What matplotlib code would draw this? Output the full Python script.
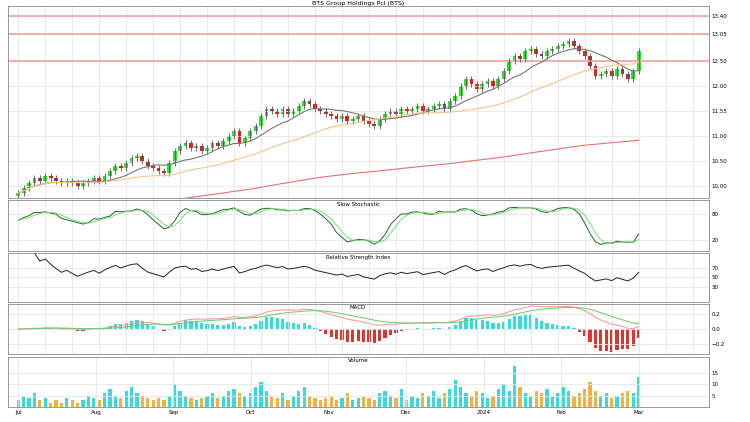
import numpy as np
import pandas as pd
import matplotlib.pyplot as plt

closes = [9.85, 9.95, 10.05, 10.15, 10.10, 10.20,
          10.15, 10.10, 10.05, 10.10, 10.05, 10.00, 10.05, 10.10, 10.15, 10.10,
          10.20, 10.30, 10.40, 10.35, 10.45, 10.55, 10.60, 10.50, 10.40, 10.35,
          10.30, 10.25, 10.45, 10.70, 10.80, 10.85, 10.75, 10.80, 10.70, 10.75,
          10.85, 10.80, 10.90, 11.00, 11.10, 10.85, 10.95, 11.10, 11.20, 11.40,
          11.55, 11.50, 11.45, 11.55, 11.45, 11.50, 11.60, 11.70, 11.65, 11.55,
          11.50, 11.45, 11.40, 11.35, 11.40, 11.30, 11.35, 11.40, 11.30, 11.25,
          11.20, 11.35, 11.45, 11.50, 11.45, 11.55, 11.50, 11.55, 11.60, 11.50,
          11.55, 11.60, 11.65, 11.55, 11.70, 11.80, 12.00, 12.15, 12.05, 11.95,
          12.05, 12.10, 12.00, 12.15, 12.30, 12.50, 12.60, 12.55, 12.70, 12.75,
          12.65, 12.60, 12.70, 12.75, 12.80, 12.85, 12.90, 12.80, 12.70, 12.60,
          12.40, 12.20, 12.25, 12.30, 12.20, 12.35, 12.25, 12.15, 12.30, 12.70]
# earlier history used only to warm up the long moving average
prior_closes = [9.2] * 30
volumes = [3, 5, 4, 6, 3, 4, 2, 3, 2, 4, 3, 2, 3, 5, 4, 3,
           6, 8, 5, 4, 7, 9, 6, 5, 4, 3, 4, 3, 5, 10, 7, 5,
           4, 3, 4, 5, 6, 4, 5, 7, 8, 6, 5, 6, 9, 11, 7, 5,
           4, 6, 3, 5, 7, 9, 5, 4, 3, 4, 5, 3, 4, 6, 3, 4,
           5, 4, 3, 6, 7, 5, 4, 8, 3, 5, 4, 6, 5, 7, 4, 6,
           8, 12, 9, 6, 5, 7, 6, 4, 5, 8, 10, 7, 18, 9, 6, 5,
           7, 6, 8, 5, 6, 9, 7, 5, 6, 8, 11, 7, 5, 6, 4, 5,
           6, 7, 6, 13]
date_labels = ["Jul", "Aug", "Sep", "Oct", "Nov", "Dec", "2024", "Feb", "Mar"]
res_lines = [12.5, 13.05, 13.4]
title = "BTS Group Holdings Pcl (BTS)"

c = pd.Series(closes)
n = len(c)
x = np.arange(n)
o = c.shift(1).fillna(c[0] - 0.05)
hi = np.maximum(o, c) + 0.06
lo = np.minimum(o, c) - 0.06
up = c >= o

ma_fast = c.rolling(10, min_periods=1).mean()
ma_mid = c.rolling(30, min_periods=1).mean()
ma_long = pd.Series(prior_closes + closes).expanding().mean().iloc[len(prior_closes):].values

lo14 = lo.rolling(14, min_periods=1).min()
hi14 = hi.rolling(14, min_periods=1).max()
k = (100 * (c - lo14) / (hi14 - lo14)).rolling(3, min_periods=1).mean()
d = k.rolling(3, min_periods=1).mean()

delta = c.diff().fillna(0)
gain = delta.clip(lower=0).ewm(alpha=1 / 14).mean()
loss = (-delta.clip(upper=0)).ewm(alpha=1 / 14).mean()
rsi = 100 - 100 / (1 + gain / (loss + 1e-9))

macd = c.ewm(span=12).mean() - c.ewm(span=26).mean()
sig = macd.ewm(span=9).mean()
hist = macd - sig

fig = plt.figure(figsize=(7.5, 4.22), dpi=100)
fig.patch.set_facecolor("white")
panels = [(0.01, 0.53, 0.935, 0.455), (0.01, 0.405, 0.935, 0.12),
          (0.01, 0.285, 0.935, 0.115), (0.01, 0.16, 0.935, 0.12),
          (0.01, 0.035, 0.935, 0.12)]
axes = [fig.add_axes(p) for p in panels]
for ax in axes:
    ax.set_xlim(-2, n + 12)
    ax.yaxis.tick_right()
    ax.tick_params(labelsize=4, length=0, pad=2)
    ax.grid(True, color="#e6e6e6", lw=0.6)
    ax.set_xticks(np.arange(0, n + 10, 5))
    ax.set_xticklabels([])
    for s in ax.spines.values():
        s.set_color("#888888")
        s.set_linewidth(0.6)

ax = axes[0]
for lv in res_lines:
    ax.axhline(lv, color="#f2a0a0", lw=1.2)
ax.vlines(x, lo, hi, color="#555555", lw=0.6)
ax.bar(x, (c - o).abs().clip(lower=0.02), bottom=np.minimum(o, c), width=0.7,
       color=np.where(up, "#33dd33", "#dd2222"))
ax.plot(x, ma_fast, color="#777777", lw=0.8)
ax.plot(x, ma_mid, color="#f5c58a", lw=0.8)
ax.plot(x[25:], ma_long[25:], color="#e87070", lw=0.8)
ax.set_ylim(9.75, 13.6)
ax.set_yticks([10.0, 10.5, 11.0, 11.5, 12.0, 12.5, 13.05, 13.4])
ax.set_yticklabels(["10.00", "10.50", "11.00", "11.55", "12.00", "12.50", "13.05", "13.40"])
ax.text(0.5, 1.0, title, transform=ax.transAxes, ha="center", va="bottom", fontsize=4.5)

ax = axes[1]
ax.plot(x, k, color="#226622", lw=0.7)
ax.plot(x, d, color="#77dd77", lw=0.7)
ax.set_ylim(-5, 110)
ax.set_yticks([20, 80])
ax.text(0.5, 0.97, "Slow Stochastic", transform=ax.transAxes, ha="center", va="top", fontsize=4)

ax = axes[2]
ax.plot(x[3:], rsi[3:], color="#222222", lw=0.7)
ax.set_ylim(0, 100)
ax.set_yticks([30, 50, 70])
ax.text(0.5, 0.97, "Relative Strength Index", transform=ax.transAxes, ha="center", va="top", fontsize=4)

ax = axes[3]
ax.plot(x, macd, color="#ff9090", lw=0.7)
ax.plot(x, sig, color="#66cc66", lw=0.7)
ax.bar(x, hist * 3, width=0.6, color=np.where(hist >= 0, "#33dddd", "#dd3333"))
ax.set_yticks([-0.2, 0.0, 0.2])
ax.text(0.5, 0.97, "MACD", transform=ax.transAxes, ha="center", va="top", fontsize=4)

ax = axes[4]
ax.bar(x, volumes, width=0.6, color=np.where(up, "#33dddd", "#f5b040"))
ax.set_ylim(0, 22)
ax.set_yticks([5, 10, 15])
ax.text(0.5, 0.97, "Volume", transform=ax.transAxes, ha="center", va="top", fontsize=4)
ax.set_xticks(np.linspace(0, n - 1, len(date_labels)))
ax.set_xticklabels(date_labels, fontsize=4)

fig.savefig("out.png", dpi=100, facecolor="white")
